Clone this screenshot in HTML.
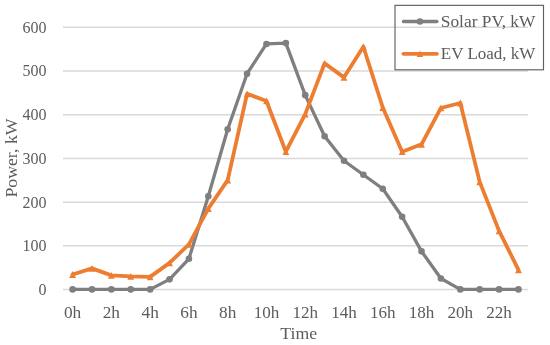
<!DOCTYPE html><html><head><meta charset="utf-8"><title>Chart</title><style>html,body{margin:0;padding:0;background:#fff}svg{display:block}text{font-family:"Liberation Serif",serif;fill:#5c5c5c}</style></head><body>
<svg width="550" height="345" viewBox="0 0 550 345">
<rect width="550" height="345" fill="#fff"/>
<line x1="63.0" x2="528.0" y1="289.55" y2="289.55" stroke="#d9d9d9" stroke-width="1.5"/>
<line x1="63.0" x2="528.0" y1="245.85" y2="245.85" stroke="#d9d9d9" stroke-width="1.5"/>
<line x1="63.0" x2="528.0" y1="202.15" y2="202.15" stroke="#d9d9d9" stroke-width="1.5"/>
<line x1="63.0" x2="528.0" y1="158.45" y2="158.45" stroke="#d9d9d9" stroke-width="1.5"/>
<line x1="63.0" x2="528.0" y1="114.75" y2="114.75" stroke="#d9d9d9" stroke-width="1.5"/>
<line x1="63.0" x2="528.0" y1="71.05" y2="71.05" stroke="#d9d9d9" stroke-width="1.5"/>
<line x1="63.0" x2="528.0" y1="27.35" y2="27.35" stroke="#d9d9d9" stroke-width="1.5"/>
<text x="46.4" y="294.95" font-size="16" text-anchor="end">0</text>
<text x="46.4" y="251.25" font-size="16" text-anchor="end">100</text>
<text x="46.4" y="207.55" font-size="16" text-anchor="end">200</text>
<text x="46.4" y="163.85" font-size="16" text-anchor="end">300</text>
<text x="46.4" y="120.15" font-size="16" text-anchor="end">400</text>
<text x="46.4" y="76.45" font-size="16" text-anchor="end">500</text>
<text x="46.4" y="32.75" font-size="16" text-anchor="end">600</text>
<text x="72.60" y="317.8" font-size="16" text-anchor="middle" textLength="17.3" lengthAdjust="spacingAndGlyphs">0h</text>
<text x="111.37" y="317.8" font-size="16" text-anchor="middle" textLength="17.3" lengthAdjust="spacingAndGlyphs">2h</text>
<text x="150.14" y="317.8" font-size="16" text-anchor="middle" textLength="17.3" lengthAdjust="spacingAndGlyphs">4h</text>
<text x="188.91" y="317.8" font-size="16" text-anchor="middle" textLength="17.3" lengthAdjust="spacingAndGlyphs">6h</text>
<text x="227.68" y="317.8" font-size="16" text-anchor="middle" textLength="17.3" lengthAdjust="spacingAndGlyphs">8h</text>
<text x="266.45" y="317.8" font-size="16" text-anchor="middle" textLength="25.6" lengthAdjust="spacingAndGlyphs">10h</text>
<text x="305.22" y="317.8" font-size="16" text-anchor="middle" textLength="25.6" lengthAdjust="spacingAndGlyphs">12h</text>
<text x="343.99" y="317.8" font-size="16" text-anchor="middle" textLength="25.6" lengthAdjust="spacingAndGlyphs">14h</text>
<text x="382.76" y="317.8" font-size="16" text-anchor="middle" textLength="25.6" lengthAdjust="spacingAndGlyphs">16h</text>
<text x="421.53" y="317.8" font-size="16" text-anchor="middle" textLength="25.6" lengthAdjust="spacingAndGlyphs">18h</text>
<text x="460.30" y="317.8" font-size="16" text-anchor="middle" textLength="25.6" lengthAdjust="spacingAndGlyphs">20h</text>
<text x="499.07" y="317.8" font-size="16" text-anchor="middle" textLength="25.6" lengthAdjust="spacingAndGlyphs">22h</text>
<text x="298.7" y="338.8" font-size="16" text-anchor="middle" textLength="36.8" lengthAdjust="spacingAndGlyphs">Time</text>
<text transform="translate(16.8,158) rotate(-90)" font-size="16.5" text-anchor="middle" textLength="79.2" lengthAdjust="spacingAndGlyphs">Power, kW</text>
<polyline points="72.60,289.40 91.98,289.40 111.37,289.40 130.75,289.40 150.14,289.40 169.53,279.34 188.91,258.77 208.30,196.21 227.68,129.27 247.06,73.71 266.45,43.96 285.84,43.09 305.22,95.15 324.61,136.27 343.99,160.77 363.38,174.77 382.76,188.77 402.14,216.77 421.53,251.34 440.92,278.46 460.30,289.40 479.69,289.40 499.07,289.40 518.46,289.40" fill="none" stroke="#7f7f7f" stroke-width="3.3" stroke-linejoin="round" stroke-linecap="round"/>
<circle cx="72.60" cy="289.40" r="3.3" fill="#7f7f7f"/>
<circle cx="91.98" cy="289.40" r="3.3" fill="#7f7f7f"/>
<circle cx="111.37" cy="289.40" r="3.3" fill="#7f7f7f"/>
<circle cx="130.75" cy="289.40" r="3.3" fill="#7f7f7f"/>
<circle cx="150.14" cy="289.40" r="3.3" fill="#7f7f7f"/>
<circle cx="169.53" cy="279.34" r="3.3" fill="#7f7f7f"/>
<circle cx="188.91" cy="258.77" r="3.3" fill="#7f7f7f"/>
<circle cx="208.30" cy="196.21" r="3.3" fill="#7f7f7f"/>
<circle cx="227.68" cy="129.27" r="3.3" fill="#7f7f7f"/>
<circle cx="247.06" cy="73.71" r="3.3" fill="#7f7f7f"/>
<circle cx="266.45" cy="43.96" r="3.3" fill="#7f7f7f"/>
<circle cx="285.84" cy="43.09" r="3.3" fill="#7f7f7f"/>
<circle cx="305.22" cy="95.15" r="3.3" fill="#7f7f7f"/>
<circle cx="324.61" cy="136.27" r="3.3" fill="#7f7f7f"/>
<circle cx="343.99" cy="160.77" r="3.3" fill="#7f7f7f"/>
<circle cx="363.38" cy="174.77" r="3.3" fill="#7f7f7f"/>
<circle cx="382.76" cy="188.77" r="3.3" fill="#7f7f7f"/>
<circle cx="402.14" cy="216.77" r="3.3" fill="#7f7f7f"/>
<circle cx="421.53" cy="251.34" r="3.3" fill="#7f7f7f"/>
<circle cx="440.92" cy="278.46" r="3.3" fill="#7f7f7f"/>
<circle cx="460.30" cy="289.40" r="3.3" fill="#7f7f7f"/>
<circle cx="479.69" cy="289.40" r="3.3" fill="#7f7f7f"/>
<circle cx="499.07" cy="289.40" r="3.3" fill="#7f7f7f"/>
<circle cx="518.46" cy="289.40" r="3.3" fill="#7f7f7f"/>
<polyline points="72.60,274.52 91.98,268.40 111.37,275.40 130.75,276.41 150.14,276.84 169.53,262.84 188.91,244.47 208.30,208.59 227.68,180.16 247.06,93.84 266.45,100.97 285.84,151.72 305.22,114.09 324.61,63.34 343.99,77.34 363.38,46.72 382.76,107.53 402.14,151.72 421.53,144.28 440.92,107.97 460.30,103.02 479.69,181.91 499.07,230.91 518.46,269.84" fill="none" stroke="#ed7d31" stroke-width="3.8" stroke-linejoin="round" stroke-linecap="round"/>
<polygon points="72.60,271.12 76.00,277.92 69.20,277.92" fill="#ed7d31"/>
<polygon points="91.98,265.00 95.39,271.80 88.58,271.80" fill="#ed7d31"/>
<polygon points="111.37,272.00 114.77,278.80 107.97,278.80" fill="#ed7d31"/>
<polygon points="130.75,273.01 134.16,279.81 127.35,279.81" fill="#ed7d31"/>
<polygon points="150.14,273.44 153.54,280.24 146.74,280.24" fill="#ed7d31"/>
<polygon points="169.53,259.44 172.93,266.24 166.12,266.24" fill="#ed7d31"/>
<polygon points="188.91,241.07 192.31,247.87 185.51,247.87" fill="#ed7d31"/>
<polygon points="208.30,205.19 211.70,211.99 204.90,211.99" fill="#ed7d31"/>
<polygon points="227.68,176.76 231.08,183.56 224.28,183.56" fill="#ed7d31"/>
<polygon points="247.06,90.44 250.47,97.24 243.66,97.24" fill="#ed7d31"/>
<polygon points="266.45,97.57 269.85,104.37 263.05,104.37" fill="#ed7d31"/>
<polygon points="285.84,148.32 289.24,155.12 282.44,155.12" fill="#ed7d31"/>
<polygon points="305.22,110.69 308.62,117.49 301.82,117.49" fill="#ed7d31"/>
<polygon points="324.61,59.94 328.00,66.74 321.21,66.74" fill="#ed7d31"/>
<polygon points="343.99,73.94 347.39,80.74 340.59,80.74" fill="#ed7d31"/>
<polygon points="363.38,43.32 366.77,50.12 359.98,50.12" fill="#ed7d31"/>
<polygon points="382.76,104.13 386.16,110.93 379.36,110.93" fill="#ed7d31"/>
<polygon points="402.14,148.32 405.54,155.12 398.75,155.12" fill="#ed7d31"/>
<polygon points="421.53,140.88 424.93,147.68 418.13,147.68" fill="#ed7d31"/>
<polygon points="440.92,104.57 444.32,111.37 437.52,111.37" fill="#ed7d31"/>
<polygon points="460.30,99.62 463.70,106.42 456.90,106.42" fill="#ed7d31"/>
<polygon points="479.69,178.51 483.09,185.31 476.29,185.31" fill="#ed7d31"/>
<polygon points="499.07,227.51 502.47,234.31 495.67,234.31" fill="#ed7d31"/>
<polygon points="518.46,266.44 521.86,273.24 515.06,273.24" fill="#ed7d31"/>
<rect x="395.0" y="5.35" width="148.5" height="64.45" fill="none" stroke="#5f5f5f" stroke-width="1.15"/>
<line x1="403.4" x2="436.9" y1="21.5" y2="21.5" stroke="#7f7f7f" stroke-width="3.3" stroke-linecap="round"/>
<circle cx="419.9" cy="21.5" r="3.3" fill="#7f7f7f"/>
<line x1="403.4" x2="436.9" y1="53.8" y2="53.8" stroke="#ed7d31" stroke-width="3.8" stroke-linecap="round"/>
<polygon points="419.90,50.60 423.10,57.00 416.70,57.00" fill="#ed7d31"/>
<text x="440.8" y="26.7" font-size="16.5" textLength="94.6" lengthAdjust="spacingAndGlyphs">Solar PV, kW</text>
<text x="440.8" y="59.4" font-size="16.5" textLength="94.6" lengthAdjust="spacingAndGlyphs">EV Load, kW</text>
</svg></body></html>
